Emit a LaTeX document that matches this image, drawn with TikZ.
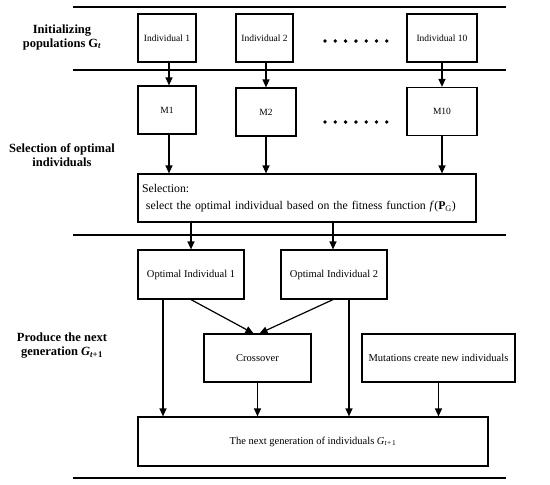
\documentclass[tikz,border=0pt]{standalone}
\usepackage{fontspec}
\setmainfont{Liberation Serif}
\usetikzlibrary{arrows.meta,calc}
\begin{document}
\begin{tikzpicture}[x=1pt,y=-1pt,
  box/.style={draw,line width=1.2pt,minimum height=48pt,inner sep=0pt,font=\fontsize{10.5}{12}\selectfont,anchor=center},
  smallbox/.style={box,font=\fontsize{9.5}{11}\selectfont},
  arr/.style={line width=1.2pt,-{Triangle[length=8pt,width=7pt]}},
  sep/.style={line width=1.2pt},
  lab/.style={font=\fontsize{12.5}{14}\selectfont\bfseries,align=center},
  dot/.style={fill,circle,inner sep=0pt,minimum size=3.8pt}]
\useasboundingbox (0,0) rectangle (550,485);
% separator lines
\coordinate (l1a) at (73,7); \coordinate (l1b) at (506,7);
\coordinate (l2a) at (73,70); \coordinate (l2b) at (506,70);
\coordinate (l3a) at (73,235); \coordinate (l3b) at (506,235);
\coordinate (l4a) at (73,478); \coordinate (l4b) at (506,478);
\draw[sep] (l1a) -- (l1b);
\draw[sep] (l2a) -- (l2b);
\draw[sep] (l3a) -- (l3b);
\draw[sep] (l4a) -- (l4b);
% labels
\node[lab] (labA) at (62,37) {Initializing\\populations G\textsubscript{\itshape t}};
\node[lab] (labB) at (62,155) {Selection of optimal\\individuals};
\node[lab] (labC) at (62,346) {Produce the next\\generation \textit{G}\textsubscript{\itshape t+}\textsubscript{1}};
% row 1
\node[smallbox,minimum width=58pt] (ind1) at (167,38) {Individual 1};
\node[smallbox,minimum width=57pt] (ind2) at (264.5,38) {Individual 2};
\node[smallbox,minimum width=70pt] (ind10) at (442,38) {Individual 10};
\foreach \i in {0,...,6} { \node[dot] (da\i) at (325+\i*10.3,41) {}; }
% row 2
\node[smallbox,minimum width=58pt] (m1) at (167,110) {M1};
\node[smallbox,minimum width=60pt] (m2) at (266,112) {M2};
\node[smallbox,minimum width=70pt] (m10) at (442,111.5) {M10};
\foreach \i in {0,...,6} { \node[dot] (db\i) at (325+\i*10.3,122) {}; }
% selection
\node[box,minimum width=338pt,text width=330pt,inner xsep=4pt,align=left,font=\fontsize{11.8}{17}\selectfont] (sel) at (307,198)
  {Selection:\\\ select the optimal individual based on the fitness function \textit{f}(\textbf{P}\textsubscript{G})};
% optimal
\node[box,minimum width=106pt,minimum height=49pt] (opt1) at (191,274.5) {Optimal Individual 1};
\node[box,minimum width=106pt,minimum height=49pt] (opt2) at (334,274.5) {Optimal Individual 2};
% crossover, mutation
\node[box,minimum width=107pt] (cross) at (257.5,358) {Crossover};
\node[box,minimum width=153pt] (mut) at (438.5,358) {Mutations create new individuals};
% next generation
\node[box,minimum width=350pt,minimum height=49pt] (next) at (313,441.5) {The next generation of individuals \textit{G}\textsubscript{\itshape t+}\textsubscript{1}};
% arrows row1 -> row2
\draw[arr] ([xshift=2pt]ind1.south) -- ([xshift=2pt]ind1.south |- m1.north);
\draw[arr] ([xshift=1.5pt]ind2.south) -- ([xshift=1.5pt]ind2.south |- m2.north);
\draw[arr] (ind10.south) -- (m10.north);
% row2 -> selection
\draw[arr] ([xshift=2pt]m1.south) -- ([xshift=2pt]m1.south |- sel.north);
\draw[arr] (m2.south) -- (m2.south |- sel.north);
\draw[arr] (m10.south) -- (m10.south |- sel.north);
% selection -> optimal
\draw[arr] (opt1.north |- sel.south) -- (opt1.north);
\draw[arr] ([xshift=-1pt]opt2.north |- sel.south) -- ([xshift=-1pt]opt2.north);
% optimal -> crossover
\draw[arr] (opt1.south) -- ([xshift=-4pt]cross.north);
\draw[arr] ([xshift=-1pt]opt2.south) -- ([xshift=2pt]cross.north);
% to next generation
\draw[arr] ([xshift=-28pt]opt1.south) -- ([xshift=-28pt]opt1.south |- next.north);
\draw[arr] ([xshift=15pt]opt2.south) -- ([xshift=15pt]opt2.south |- next.north);
\draw[arr] (cross.south) -- (cross.south |- next.north);
\draw[arr] (mut.south) -- (mut.south |- next.north);
\end{tikzpicture}
\end{document}
